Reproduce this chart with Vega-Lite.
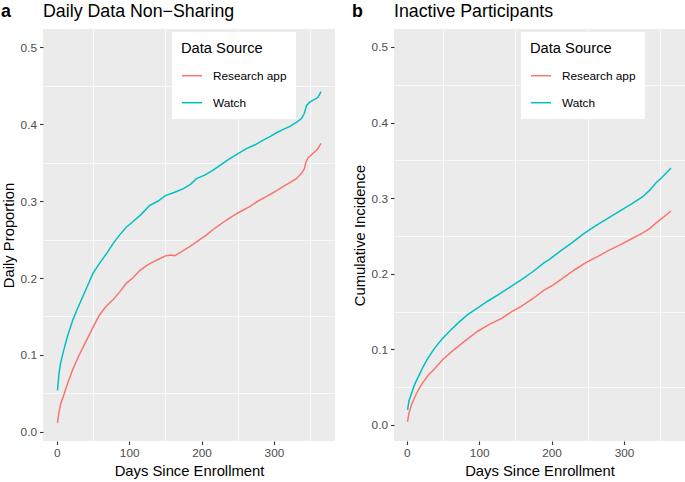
{
 "$schema": "https://vega.github.io/schema/vega-lite/v6.json",
 "padding": {"left": 1, "top": 3, "right": 0, "bottom": 2},
 "datasets": {
  "nonsharing": [
   {"source":"Watch","day":1,"value":0.054},{"source":"Watch","day":3,"value":0.075},{"source":"Watch","day":5,"value":0.088},{"source":"Watch","day":9,"value":0.104},{"source":"Watch","day":15,"value":0.125},{"source":"Watch","day":22,"value":0.145},{"source":"Watch","day":29,"value":0.161},{"source":"Watch","day":36,"value":0.176},{"source":"Watch","day":43,"value":0.191},{"source":"Watch","day":50,"value":0.206},{"source":"Watch","day":59,"value":0.219},{"source":"Watch","day":69,"value":0.232},{"source":"Watch","day":78,"value":0.245},{"source":"Watch","day":87,"value":0.256},{"source":"Watch","day":96,"value":0.266},{"source":"Watch","day":105,"value":0.273},{"source":"Watch","day":116,"value":0.282},{"source":"Watch","day":128,"value":0.294},{"source":"Watch","day":140,"value":0.300},{"source":"Watch","day":150,"value":0.307},{"source":"Watch","day":162,"value":0.311},{"source":"Watch","day":175,"value":0.316},{"source":"Watch","day":185,"value":0.322},{"source":"Watch","day":193,"value":0.329},{"source":"Watch","day":205,"value":0.334},{"source":"Watch","day":216,"value":0.340},{"source":"Watch","day":228,"value":0.348},{"source":"Watch","day":239,"value":0.355},{"source":"Watch","day":251,"value":0.362},{"source":"Watch","day":262,"value":0.368},{"source":"Watch","day":274,"value":0.373},{"source":"Watch","day":285,"value":0.379},{"source":"Watch","day":295,"value":0.384},{"source":"Watch","day":304,"value":0.389},{"source":"Watch","day":313,"value":0.393},{"source":"Watch","day":322,"value":0.397},{"source":"Watch","day":331,"value":0.402},{"source":"Watch","day":338,"value":0.407},{"source":"Watch","day":342,"value":0.414},{"source":"Watch","day":345,"value":0.424},{"source":"Watch","day":349,"value":0.428},{"source":"Watch","day":354,"value":0.431},{"source":"Watch","day":358,"value":0.433},{"source":"Watch","day":361,"value":0.435},{"source":"Watch","day":365,"value":0.442},
   {"source":"Research app","day":1,"value":0.012},{"source":"Research app","day":3,"value":0.025},{"source":"Research app","day":5,"value":0.035},{"source":"Research app","day":9,"value":0.046},{"source":"Research app","day":15,"value":0.063},{"source":"Research app","day":22,"value":0.081},{"source":"Research app","day":30,"value":0.098},{"source":"Research app","day":39,"value":0.115},{"source":"Research app","day":49,"value":0.134},{"source":"Research app","day":59,"value":0.152},{"source":"Research app","day":68,"value":0.163},{"source":"Research app","day":78,"value":0.172},{"source":"Research app","day":87,"value":0.182},{"source":"Research app","day":96,"value":0.193},{"source":"Research app","day":106,"value":0.201},{"source":"Research app","day":115,"value":0.210},{"source":"Research app","day":124,"value":0.216},{"source":"Research app","day":133,"value":0.221},{"source":"Research app","day":142,"value":0.225},{"source":"Research app","day":151,"value":0.229},{"source":"Research app","day":158,"value":0.230},{"source":"Research app","day":163,"value":0.229},{"source":"Research app","day":172,"value":0.234},{"source":"Research app","day":184,"value":0.241},{"source":"Research app","day":196,"value":0.249},{"source":"Research app","day":207,"value":0.256},{"source":"Research app","day":216,"value":0.263},{"source":"Research app","day":225,"value":0.269},{"source":"Research app","day":234,"value":0.275},{"source":"Research app","day":244,"value":0.281},{"source":"Research app","day":255,"value":0.287},{"source":"Research app","day":267,"value":0.293},{"source":"Research app","day":278,"value":0.300},{"source":"Research app","day":290,"value":0.306},{"source":"Research app","day":301,"value":0.312},{"source":"Research app","day":313,"value":0.319},{"source":"Research app","day":322,"value":0.324},{"source":"Research app","day":331,"value":0.329},{"source":"Research app","day":338,"value":0.336},{"source":"Research app","day":342,"value":0.342},{"source":"Research app","day":344,"value":0.350},{"source":"Research app","day":347,"value":0.356},{"source":"Research app","day":354,"value":0.362},{"source":"Research app","day":360,"value":0.367},{"source":"Research app","day":365,"value":0.375}
  ],
  "inactive": [
   {"source":"Watch","day":1,"value":0.020},{"source":"Watch","day":3,"value":0.032},{"source":"Watch","day":7,"value":0.043},{"source":"Watch","day":11,"value":0.054},{"source":"Watch","day":16,"value":0.064},{"source":"Watch","day":22,"value":0.076},{"source":"Watch","day":29,"value":0.088},{"source":"Watch","day":38,"value":0.101},{"source":"Watch","day":48,"value":0.113},{"source":"Watch","day":59,"value":0.124},{"source":"Watch","day":71,"value":0.135},{"source":"Watch","day":84,"value":0.146},{"source":"Watch","day":98,"value":0.155},{"source":"Watch","day":112,"value":0.164},{"source":"Watch","day":126,"value":0.172},{"source":"Watch","day":142,"value":0.182},{"source":"Watch","day":158,"value":0.192},{"source":"Watch","day":173,"value":0.202},{"source":"Watch","day":189,"value":0.214},{"source":"Watch","day":197,"value":0.219},{"source":"Watch","day":212,"value":0.230},{"source":"Watch","day":228,"value":0.241},{"source":"Watch","day":243,"value":0.252},{"source":"Watch","day":260,"value":0.263},{"source":"Watch","day":277,"value":0.273},{"source":"Watch","day":294,"value":0.283},{"source":"Watch","day":310,"value":0.292},{"source":"Watch","day":326,"value":0.302},{"source":"Watch","day":336,"value":0.311},{"source":"Watch","day":344,"value":0.320},{"source":"Watch","day":352,"value":0.327},{"source":"Watch","day":358,"value":0.333},{"source":"Watch","day":365,"value":0.340},
   {"source":"Research app","day":1,"value":0.004},{"source":"Research app","day":3,"value":0.016},{"source":"Research app","day":7,"value":0.028},{"source":"Research app","day":13,"value":0.041},{"source":"Research app","day":20,"value":0.053},{"source":"Research app","day":29,"value":0.065},{"source":"Research app","day":39,"value":0.075},{"source":"Research app","day":50,"value":0.087},{"source":"Research app","day":62,"value":0.097},{"source":"Research app","day":80,"value":0.111},{"source":"Research app","day":98,"value":0.124},{"source":"Research app","day":114,"value":0.133},{"source":"Research app","day":131,"value":0.141},{"source":"Research app","day":145,"value":0.150},{"source":"Research app","day":158,"value":0.157},{"source":"Research app","day":174,"value":0.167},{"source":"Research app","day":189,"value":0.178},{"source":"Research app","day":202,"value":0.185},{"source":"Research app","day":218,"value":0.196},{"source":"Research app","day":233,"value":0.206},{"source":"Research app","day":248,"value":0.215},{"source":"Research app","day":264,"value":0.223},{"source":"Research app","day":279,"value":0.231},{"source":"Research app","day":294,"value":0.238},{"source":"Research app","day":310,"value":0.246},{"source":"Research app","day":326,"value":0.254},{"source":"Research app","day":336,"value":0.260},{"source":"Research app","day":344,"value":0.267},{"source":"Research app","day":352,"value":0.273},{"source":"Research app","day":365,"value":0.283}
  ]
 },
 "spacing": 17,
 "hconcat": [
  {
   "title": {"text": "a", "anchor": "start", "frame": "bounds", "fontSize": 17.8, "fontWeight": "bold", "baseline": "alphabetic", "offset": -32},
   "vconcat": [
    {
     "width": 292, "height": 412,
     "data": {"name": "nonsharing"},
     "title": {"text": "Daily Data Non−Sharing", "anchor": "start", "frame": "group", "fontSize": 17.8, "fontWeight": "normal", "baseline": "alphabetic", "offset": -6},
     "layer": [
      {
       "mark": {"type": "line", "opacity": 0},
       "encoding": {
        "x": {"field": "day", "type": "quantitative", "scale": {"domain": [-19, 384.3], "nice": false, "zero": false}, "axis": {"orient": "top", "values": [50, 150, 250, 350], "grid": true, "gridWidth": 0.7, "labels": false, "ticks": false, "domain": false, "title": null, "minExtent": 0, "maxExtent": 0, "offset": 0, "labelPadding": 0, "tickSize": 0}},
        "y": {"field": "value", "type": "quantitative", "scale": {"domain": [-0.0117, 0.5234], "nice": false, "zero": false}, "axis": {"orient": "right", "values": [0.05, 0.15, 0.25, 0.35, 0.45], "grid": true, "gridWidth": 0.7, "labels": false, "ticks": false, "domain": false, "title": null, "minExtent": 0, "maxExtent": 0, "offset": 0, "labelPadding": 0, "tickSize": 0}},
        "detail": {"field": "source"}
       }
      },
      {
       "mark": {"type": "line", "strokeWidth": 1.5},
       "encoding": {
        "x": {"field": "day", "type": "quantitative", "scale": {"domain": [-19, 384.3], "nice": false, "zero": false}, "axis": {"orient": "bottom", "values": [0, 100, 200, 300], "title": "Days Since Enrollment"}},
        "y": {"field": "value", "type": "quantitative", "scale": {"domain": [-0.0117, 0.5234], "nice": false, "zero": false}, "axis": {"orient": "left", "values": [0, 0.1, 0.2, 0.3, 0.4, 0.5], "format": ".1f", "title": "Daily Proportion"}},
        "color": {"field": "source", "type": "nominal", "scale": {"domain": ["Research app", "Watch"], "range": ["#F8766D", "#00BFC4"]}, "legend": {"title": "Data Source", "orient": "none", "legendX": 129, "legendY": 3}}
       }
      }
     ],
     "resolve": {"axis": {"x": "independent", "y": "independent"}}
    }
   ]
  },
  {
   "title": {"text": "b", "anchor": "start", "frame": "bounds", "fontSize": 17.8, "fontWeight": "bold", "baseline": "alphabetic", "offset": -32},
   "vconcat": [
    {
     "width": 291, "height": 412,
     "data": {"name": "inactive"},
     "title": {"text": "Inactive Participants", "anchor": "start", "frame": "group", "fontSize": 17.8, "fontWeight": "normal", "baseline": "alphabetic", "offset": -6},
     "layer": [
      {
       "mark": {"type": "line", "opacity": 0},
       "encoding": {
        "x": {"field": "day", "type": "quantitative", "scale": {"domain": [-17.7, 384.3], "nice": false, "zero": false}, "axis": {"orient": "top", "values": [50, 150, 250, 350], "grid": true, "gridWidth": 0.7, "labels": false, "ticks": false, "domain": false, "title": null, "minExtent": 0, "maxExtent": 0, "offset": 0, "labelPadding": 0, "tickSize": 0}},
        "y": {"field": "value", "type": "quantitative", "scale": {"domain": [-0.0212, 0.5238], "nice": false, "zero": false}, "axis": {"orient": "right", "values": [0.05, 0.15, 0.25, 0.35, 0.45], "grid": true, "gridWidth": 0.7, "labels": false, "ticks": false, "domain": false, "title": null, "minExtent": 0, "maxExtent": 0, "offset": 0, "labelPadding": 0, "tickSize": 0}},
        "detail": {"field": "source"}
       }
      },
      {
       "mark": {"type": "line", "strokeWidth": 1.5},
       "encoding": {
        "x": {"field": "day", "type": "quantitative", "scale": {"domain": [-17.7, 384.3], "nice": false, "zero": false}, "axis": {"orient": "bottom", "values": [0, 100, 200, 300], "title": "Days Since Enrollment"}},
        "y": {"field": "value", "type": "quantitative", "scale": {"domain": [-0.0212, 0.5238], "nice": false, "zero": false}, "axis": {"orient": "left", "values": [0, 0.1, 0.2, 0.3, 0.4, 0.5], "format": ".1f", "title": "Cumulative Incidence"}},
        "color": {"field": "source", "type": "nominal", "scale": {"domain": ["Research app", "Watch"], "range": ["#F8766D", "#00BFC4"]}, "legend": {"title": "Data Source", "orient": "none", "legendX": 127, "legendY": 3}}
       }
      }
     ],
     "resolve": {"axis": {"x": "independent", "y": "independent"}}
    }
   ]
  }
 ],
 "resolve": {"scale": {"color": "independent"}},
 "config": {
  "font": "Liberation Sans",
  "view": {"fill": "#EBEBEB", "stroke": null},
  "axis": {"gridColor": "#FFFFFF", "gridWidth": 1.4, "domain": false, "tickColor": "#333333", "tickSize": 3.5, "tickWidth": 1.1, "labelColor": "#4D4D4D", "labelFontSize": 11.8, "labelPadding": 3, "labelFlush": false, "titleFontSize": 14.8, "titleFontWeight": "normal", "titleColor": "#000000", "titlePadding": 4},
  "legend": {"fillColor": "#FFFFFF", "padding": 9, "titleFontSize": 14.7, "titleFontWeight": "normal", "titleColor": "#000000", "labelFontSize": 11.8, "labelColor": "#000000", "symbolType": "stroke", "symbolSize": 400, "symbolStrokeWidth": 1.5, "labelOffset": 10, "rowPadding": 9, "titlePadding": 9},
  "title": {"color": "#000000"}
 }
}
